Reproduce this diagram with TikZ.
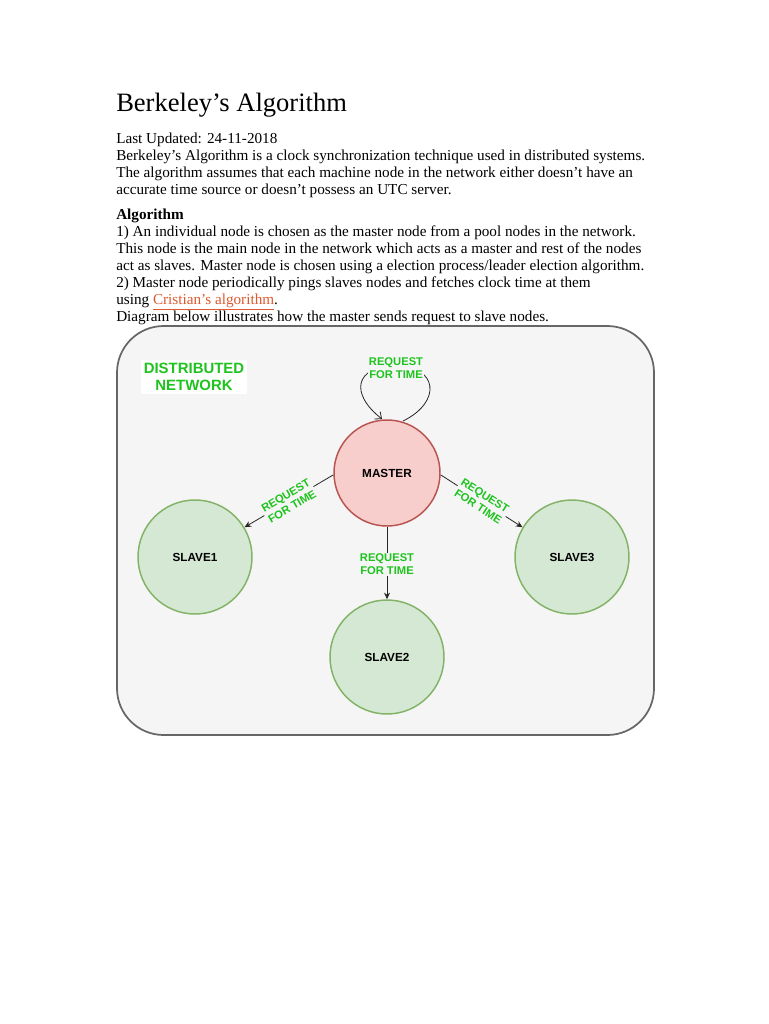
\documentclass[tikz,border=0pt]{standalone}
\usepackage{fontspec}
\setmainfont{Liberation Serif}
\newfontfamily\diagfont{Liberation Sans}
\usetikzlibrary{arrows.meta}
\definecolor{framefill}{HTML}{F5F5F5}
\definecolor{framedraw}{HTML}{666666}
\definecolor{masterfill}{HTML}{F8CECC}
\definecolor{masterdraw}{HTML}{B85450}
\definecolor{slavefill}{HTML}{D5E8D4}
\definecolor{slavedraw}{HTML}{82B366}
\definecolor{labelgreen}{HTML}{1EC31E}
\definecolor{linkcol}{HTML}{E0592D}
\tikzset{
  bodyline/.style={anchor=base west, inner sep=0pt, font=\fontsize{11.4}{13}\selectfont},
  masternode/.style={circle, draw=masterdraw, fill=masterfill, line width=1.1pt, minimum size=79.5pt, inner sep=0pt, font=\diagfont\bfseries\fontsize{8.8}{10}\selectfont},
  slavenode/.style={circle, draw=slavedraw, fill=slavefill, line width=1.1pt, minimum size=85.5pt, inner sep=0pt, font=\diagfont\bfseries\fontsize{8.8}{10}\selectfont},
  reqlabel/.style={text=labelgreen, font=\diagfont\bfseries\fontsize{8.4}{9.6}\selectfont, align=center, inner sep=1pt, fill=framefill},
  reqarrow/.style={draw=black!85, line width=0.6pt, -{Stealth[length=5pt,width=4.5pt]}}
}
\begin{document}
\begin{tikzpicture}[x=0.75pt,y=-0.75pt]
\useasboundingbox[fill=white] (0,0) rectangle (768,1024);

% Text
\node[anchor=base west, inner sep=0pt, font=\fontsize{19.9}{22}\selectfont] (title) at (116,112) {Berkeley’s Algorithm};
\node[bodyline] (l1) at (116,143) {Last Updated: 24-11-2018};
\node[bodyline] (l2) at (116,160) {Berkeley’s Algorithm is a clock synchronization technique used in distributed systems.};
\node[bodyline] (l3) at (116,177) {The algorithm assumes that each machine node in the network either doesn’t have an};
\node[bodyline] (l4) at (116,194) {accurate time source or doesn’t possess an UTC server.};
\node[bodyline, font=\fontsize{11.4}{13}\selectfont\bfseries] (l5) at (116,219) {Algorithm};
\node[bodyline] (l6) at (116,236) {1) An individual node is chosen as the master node from a pool nodes in the network.};
\node[bodyline] (l7) at (116,253) {This node is the main node in the network which acts as a master and rest of the nodes};
\node[bodyline] (l8) at (116,270) {act as slaves. Master node is chosen using a election process/leader election algorithm.};
\node[bodyline] (l9) at (116,287) {2) Master node periodically pings slaves nodes and fetches clock time at them};
\node[bodyline] (l10) at (116,304) {using \textcolor{linkcol}{\underline{Cristian’s algorithm}}.};
\node[bodyline] (l11) at (116,321) {Diagram below illustrates how the master sends request to slave nodes.};

% Frame
\draw[draw=framedraw, fill=framefill, line width=1.3pt, rounded corners=35pt] (117,326) rectangle (654,735);

% Distributed network label
\node[fill=white, minimum width=80pt, minimum height=25pt, inner sep=0pt, text=labelgreen, align=center, font=\diagfont\bfseries\fontsize{11.2}{12.8}\selectfont] (dn) at (194,377) {DISTRIBUTED\\NETWORK};

% Nodes
\node[masternode] (master) at (387,473) {MASTER};
\node[slavenode] (slave1) at (195,557) {SLAVE1};
\node[slavenode] (slave2) at (387,657) {SLAVE2};
\node[slavenode] (slave3) at (572,557) {SLAVE3};

% Arrows
\draw[reqarrow] (master.182) -- node[reqlabel, sloped, pos=0.5] (lab1) {REQUEST\\FOR TIME} (slave1.31);
\draw[reqarrow] (master.358) -- node[reqlabel, sloped, pos=0.5] (lab3) {REQUEST\\FOR TIME} (slave3.149);
\draw[reqarrow] (master.south) -- node[reqlabel, pos=0.52] (lab2) {REQUEST\\FOR TIME} (slave2.north);

% Self loop
\coordinate (ls) at (403,421);
\coordinate (le) at (382,419);
\draw[draw=black!85, line width=0.6pt, -{Straight Barb[length=4pt,width=7pt]}] (ls) .. controls (442,402) and (438,366) .. (396,366) .. controls (354,366) and (350,394) .. (le);
\node[reqlabel] (lab0) at (396,368) {REQUEST\\FOR TIME};
\end{tikzpicture}
\end{document}
